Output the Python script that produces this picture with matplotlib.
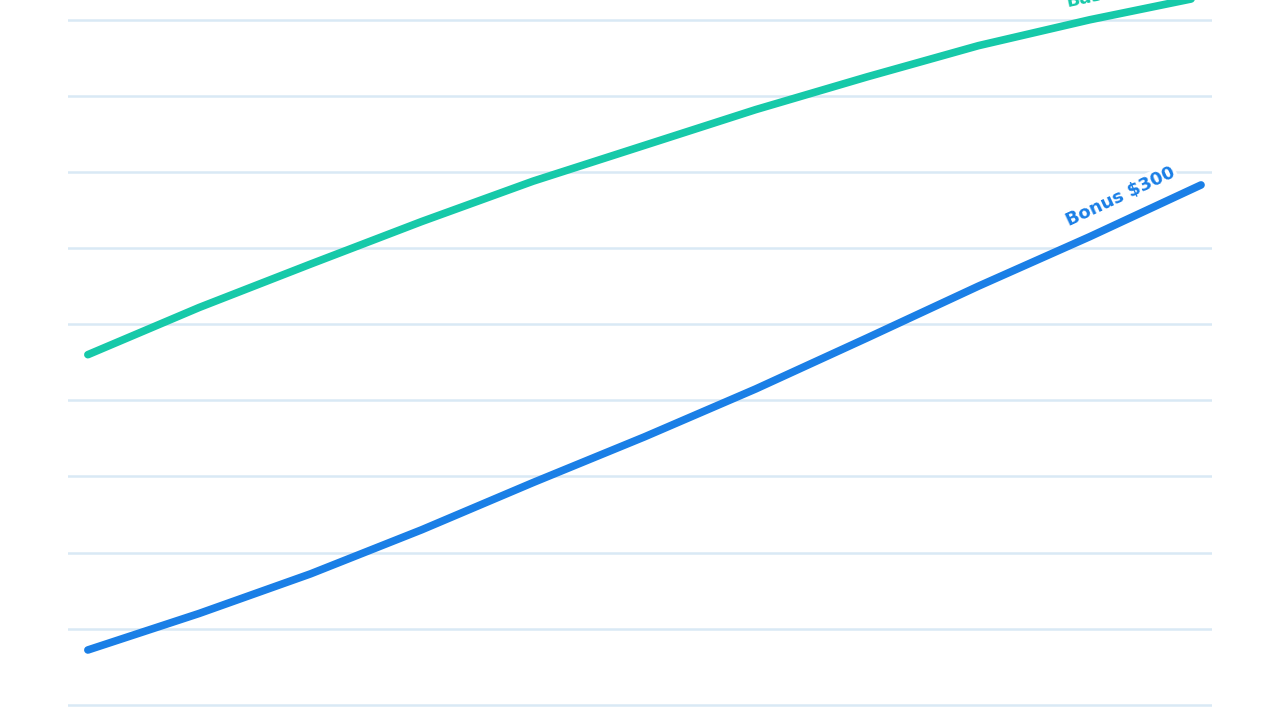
import matplotlib.pyplot as plt

# values (one grid step = 1 unit)
years = [0, 1, 2, 3, 4, 5, 6, 7, 8, 9, 10]
bonus = [0.72, 1.2, 1.72, 2.3, 2.92, 3.52, 4.15, 4.82, 5.50, 6.15, 6.83]
base = [4.60, 5.22, 5.79, 6.35, 6.88, 7.35, 7.82, 8.25, 8.66, 9.0, 9.30]
grid_vals = [0, 1, 2, 3, 4, 5, 6, 7, 8, 9]

blue = "#1a7fe6"
teal = "#16c9a9"

fig = plt.figure(figsize=(12.8, 7.2), dpi=100)
ax = fig.add_axes([0.053, 0.0, 0.894, 1.0])

for g in grid_vals:
    ax.axhline(g, color="#d9e9f5", lw=1.8, zorder=0)

ax.plot(years, base, color=teal, lw=5.5, solid_capstyle="round",
        solid_joinstyle="round", zorder=3)
ax.plot(years, bonus, color=blue, lw=5.5, solid_capstyle="round",
        solid_joinstyle="round", zorder=3)

ax.text(9.28, 6.68, "Bonus $300", color=blue, fontsize=13, rotation=25,
        ha="center", va="center", fontweight="bold",
        bbox=dict(facecolor="white", edgecolor="none", pad=1.0), zorder=4)
# this label sits at the top edge, partly cut, as in the source picture
ax.text(9.0, 9.3, "Base", color=teal, fontsize=13, rotation=12,
        ha="center", va="center", fontweight="bold", zorder=4)

ax.set_xlim(-0.18, 10.1)
ax.set_ylim(-0.2, 9.26)
ax.axis("off")

fig.savefig("out.png", dpi=100)
